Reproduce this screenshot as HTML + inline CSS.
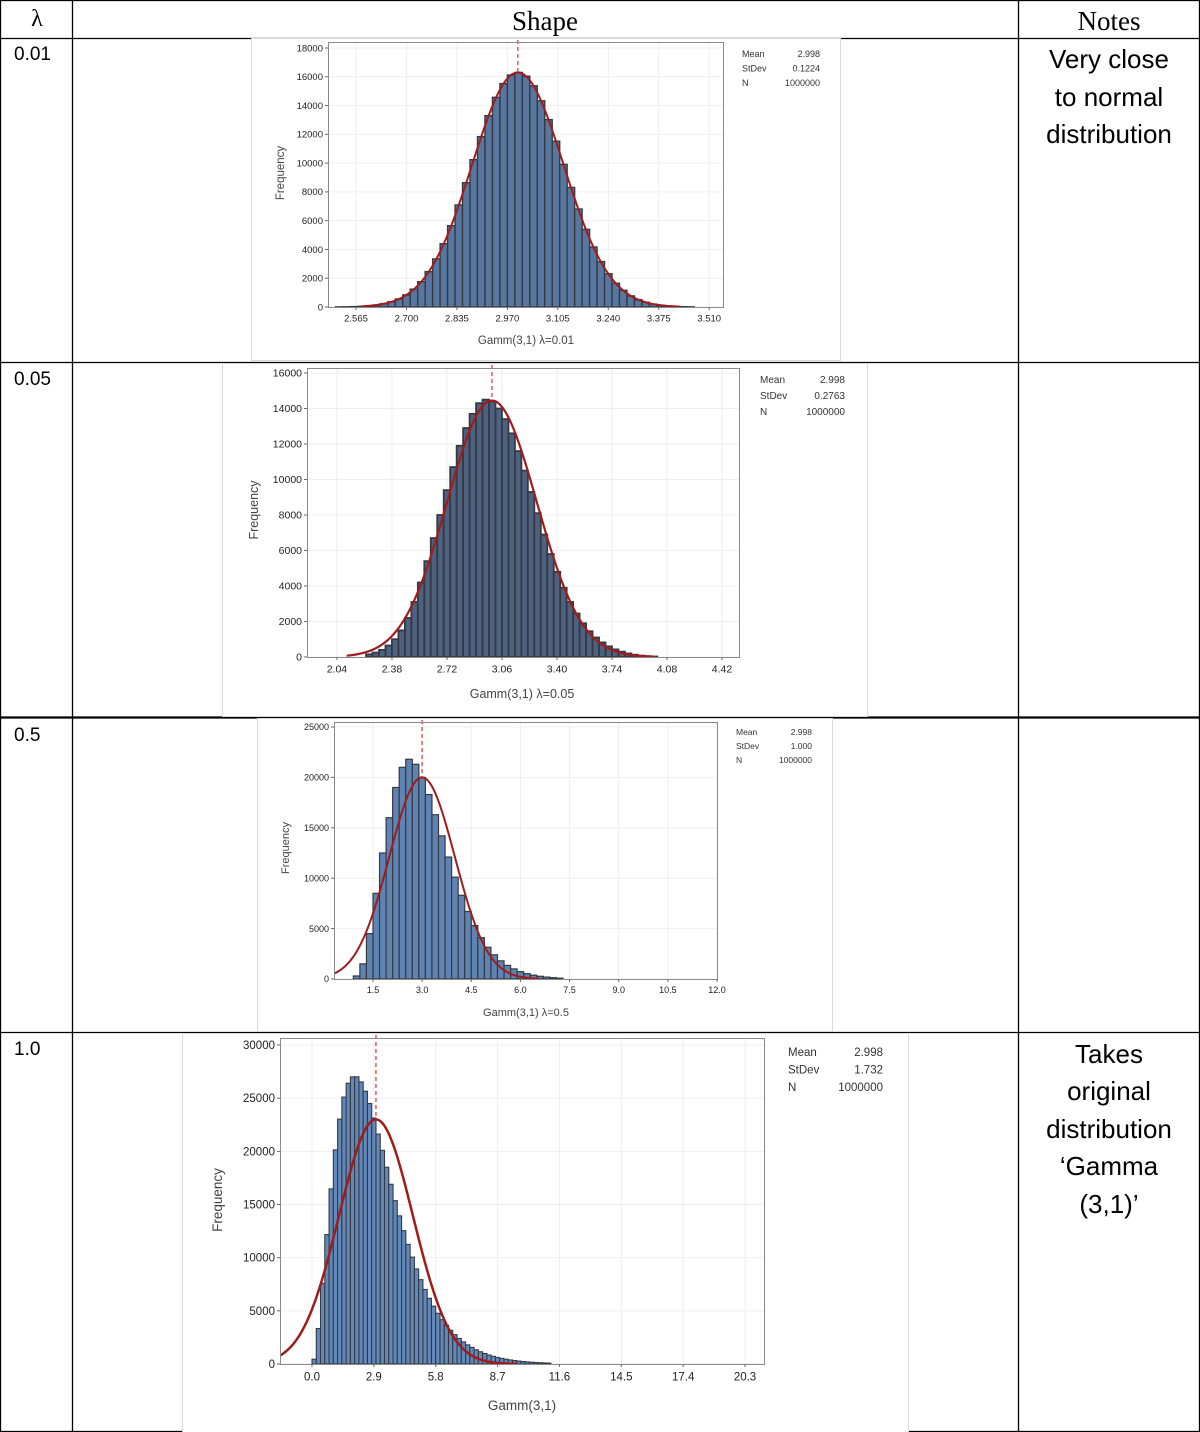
<!DOCTYPE html>
<html><head><meta charset="utf-8"><style>
html,body{margin:0;padding:0;background:#fff;}
svg{display:block;}
</style></head><body>
<svg id="page" width="1200" height="1432" viewBox="0 0 1200 1432" xmlns="http://www.w3.org/2000/svg" font-family="Liberation Sans, DejaVu Sans, sans-serif">
<g stroke="#000" stroke-width="1.3" fill="none">
<rect x="0.5" y="0.5" width="1199" height="1431"/>
<line x1="72.5" y1="0" x2="72.5" y2="1432"/>
<line x1="1018.5" y1="0" x2="1018.5" y2="1432"/>
<line x1="0" y1="38.5" x2="1200" y2="38.5"/>
<line x1="0" y1="362.5" x2="1200" y2="362.5"/>
<line x1="0" y1="717.5" x2="1200" y2="717.5" stroke-width="2.2"/>
<line x1="0" y1="1032.5" x2="1200" y2="1032.5"/>
</g>
<text x="37" y="26" font-family="Liberation Serif, serif" font-size="24" text-anchor="middle">λ</text>
<text x="545" y="30" font-family="Liberation Serif, serif" font-size="27" text-anchor="middle">Shape</text>
<text x="1109" y="30" font-family="Liberation Serif, serif" font-size="27" text-anchor="middle">Notes</text>
<g font-size="19">
<text x="14" y="60">0.01</text>
<text x="14" y="385">0.05</text>
<text x="14" y="741">0.5</text>
<text x="14" y="1055">1.0</text>
</g>
<g font-size="26" text-anchor="middle">
<text x="1109" y="68">Very close</text>
<text x="1109" y="106">to normal</text>
<text x="1109" y="143">distribution</text>
</g>
<g font-size="26" text-anchor="middle">
<text x="1109" y="1063">Takes</text>
<text x="1109" y="1100">original</text>
<text x="1109" y="1138">distribution</text>
<text x="1109" y="1175">‘Gamma</text>
<text x="1109" y="1213">(3,1)’</text>
</g>
<g id="charts"></g>
</svg>
<script>
// ---- chart 1 (lambda 0.01) ----
const c1BinStart = 2.51, c1BinWidth = 0.02;
const c1Counts = [8,15,27,48,83,139,226,362,555,841,1240,1760,2460,3340,4400,5650,7090,8640,10240,11840,13300,14570,15530,16120,16300,16040,15370,14330,13020,11520,9910,8310,6810,5400,4170,3160,2310,1650,1160,770,510,330,200,125,75,42,24,10];
const c1XTicks = ["2.565","2.700","2.835","2.970","3.105","3.240","3.375","3.510"];
const c1YTicks = [0,2000,4000,6000,8000,10000,12000,14000,16000,18000];
const c1Fit = {mean:2.998, sd:0.1224, peak:16300, from:2.58, to:3.43};
const c1Stats = [["Mean","2.998"],["StDev","0.1224"],["N","1000000"]];
// ---- chart 2 (lambda 0.05) ----
const c2BinStart = 2.22, c2BinWidth = 0.04;
const c2Counts = [150,250,400,650,1000,1500,2200,3100,4200,5400,6700,8000,9400,10700,11900,12900,13700,14300,14500,14400,14000,13400,12600,11600,10500,9300,8100,6900,5800,4800,3900,3100,2450,1900,1450,1100,820,600,430,300,200,130,80,50,30];
const c2XTicks = ["2.04","2.38","2.72","3.06","3.40","3.74","4.08","4.42"];
const c2YTicks = [0,2000,4000,6000,8000,10000,12000,14000,16000];
const c2Fit = {mean:2.998, sd:0.2763, peak:14450, from:2.1, to:4.0};
const c2Stats = [["Mean","2.998"],["StDev","0.2763"],["N","1000000"]];
// ---- chart 3 (lambda 0.5) ----
const c3BinStart = 0.9, c3BinWidth = 0.2;
const c3Counts = [300,1500,4500,8500,12500,16000,19000,21000,21800,21300,20000,18300,16300,14200,12100,10100,8300,6700,5300,4100,3150,2400,1800,1350,1000,730,530,380,270,190,130,80];
const c3XTicks = ["1.5","3.0","4.5","6.0","7.5","9.0","10.5","12.0"];
const c3YTicks = [0,5000,10000,15000,20000,25000];
const c3Fit = {mean:2.998, sd:1.0, peak:20000, from:0.31, to:6.6};
const c3Stats = [["Mean","2.998"],["StDev","1.000"],["N","1000000"]];
// ---- chart 4 (lambda 1.0) ----
const c4BinStart = 0.0, c4BinWidth = 0.2;
const c4Counts = [452,3334,7581,12166,16466,20140,23028,25100,26400,27000,27010,26530,25650,24500,23130,21620,20090,18500,16900,15360,13930,12540,11250,10050,8940,7930,7010,6180,5440,4770,4170,3650,3170,2760,2400,2080,1800,1556,1340,1150,985,845,720,615,525,447,380,322,273,231,195,165,139,117,98,82];
const c4XTicks = ["0.0","2.9","5.8","8.7","11.6","14.5","17.4","20.3"];
const c4YTicks = [0,5000,10000,15000,20000,25000,30000];
const c4Fit = {mean:2.998, sd:1.732, peak:23000, from:-1.5, to:9.6};
const c4Stats = [["Mean","2.998"],["StDev","1.732"],["N","1000000"]];

const NS = "http://www.w3.org/2000/svg";
function mk(tag, attrs, parent){
  const e = document.createElementNS(NS, tag);
  for (const k in attrs) e.setAttribute(k, attrs[k]);
  parent.appendChild(e);
  return e;
}
function drawChart(cfg){
  const root = document.getElementById('charts');
  const g = mk('g', {}, root);
  
  
  const P = cfg.plot;
  const sx = v => P.x + (v - cfg.xmin) / (cfg.xmax - cfg.xmin) * P.w;
  const sy = v => P.y + P.h - (v - 0) / (cfg.ymax - 0) * P.h;
  const panel = mk('rect', {x:cfg.panel[0]+0.5, y:cfg.panel[1]+0.5, width:cfg.panel[2], height:cfg.panel[3], fill:'#fff', stroke:'#d8d8d8'}, g);
  
  
  cfg.yTicks.forEach(t => {
    const gl = mk('line', {x1:P.x, x2:P.x+P.w, y1:sy(t), y2:sy(t), stroke:'#efefef', 'stroke-width':1}, g);
    
    
  });
  cfg.xTicks.forEach(t => {
    const gl = mk('line', {x1:sx(+t), x2:sx(+t), y1:P.y, y2:P.y+P.h, stroke:'#efefef', 'stroke-width':1}, g);
    
    
  });
  const clipId = cfg.name + '-clip';
  const defs = mk('defs', {}, g);
  const cp = mk('clipPath', {id:clipId}, defs);
  mk('rect', {x:P.x, y:P.y-30, width:P.w, height:P.h+30}, cp);
  const bars = mk('g', {'clip-path':'url(#'+clipId+')'}, g);
  cfg.counts.forEach((c, i) => {
    const x0 = cfg.binStart + i * cfg.binWidth;
    const r = mk('rect', {x:sx(x0), y:sy(c), width:Math.max(0.5, sx(x0+cfg.binWidth)-sx(x0)), height:sy(0)-sy(c), fill:cfg.barFill, stroke:'#353a42', 'stroke-width':cfg.barStroke}, bars);
    
    
  });
  const f = cfg.fit;
  let d = '';
  const n = 200;
  for (let i = 0; i <= n; i++){
    const x = f.from + (f.to - f.from) * i / n;
    const z = (x - f.mean) / f.sd;
    const y = f.peak * Math.exp(-z*z/2);
    d += (i ? 'L' : 'M') + sx(x).toFixed(2) + ',' + sy(y).toFixed(2);
  }
  const curve = mk('path', {d:d, fill:'none', stroke:'#a01c1c', 'stroke-width':cfg.curveW}, bars);
  
  
  const ml = mk('line', {x1:sx(f.mean), x2:sx(f.mean), y1:cfg.panel[1]+2, y2:sy(f.peak), stroke:'#e0302a', 'stroke-width':1.2, 'stroke-dasharray':'4,3'}, g);
  
  
  const fr = mk('rect', {x:P.x+0.5, y:P.y+0.5, width:P.w, height:P.h, fill:'none', stroke:'#8a8a8a', 'stroke-width':1}, g);
  
  
  cfg.yTicks.forEach(t => {
    mk('line', {x1:P.x-3, x2:P.x, y1:sy(t), y2:sy(t), stroke:'#666'}, g);
    const tx = mk('text', {x:P.x-5, y:sy(t)+cfg.fs*0.35, 'font-size':cfg.fs, 'text-anchor':'end', fill:'#222'}, g);
    
    
    tx.textContent = t;
  });
  cfg.xTicks.forEach(t => {
    mk('line', {x1:sx(+t), x2:sx(+t), y1:P.y+P.h, y2:P.y+P.h+3, stroke:'#666'}, g);
    const tx = mk('text', {x:sx(+t), y:P.y+P.h+cfg.fs+5, 'font-size':cfg.fs, 'text-anchor':'middle', fill:'#222'}, g);
    
    
    tx.textContent = t;
  });
  const xl = mk('text', {x:cfg.xLabel[0], y:cfg.xLabel[1], 'font-size':cfg.fs+2, 'text-anchor':'middle', fill:'#444'}, g);
  
  
  xl.textContent = cfg.xTitle;
  const yl = mk('text', {x:0, y:0, 'font-size':cfg.fs+2, 'text-anchor':'middle', fill:'#444', transform:'translate('+cfg.yLabel[0]+','+cfg.yLabel[1]+') rotate(-90)'}, g);
  
  
  yl.textContent = 'Frequency';
  cfg.stats.forEach((s, i) => {
    const a = mk('text', {x:cfg.statPos[0], y:cfg.statPos[1]+i*cfg.statGap, 'font-size':cfg.sfs, fill:'#333'}, g);
    
    
    a.textContent = s[0];
    const b = mk('text', {x:cfg.statPos[2], y:cfg.statPos[1]+i*cfg.statGap, 'font-size':cfg.sfs, 'text-anchor':'end', fill:'#333'}, g);
    
    
    b.textContent = s[1];
  });
}
drawChart({name:'histogram-lambda-0.01', panel:[251,38,589,322], plot:{x:328,y:42,w:395,h:265},
  xmin:2.49, xmax:3.547, ymax:18000*265/259,
  counts:c1Counts, binStart:c1BinStart, binWidth:c1BinWidth, xTicks:c1XTicks, yTicks:c1YTicks, fit:c1Fit, stats:c1Stats,
  barFill:'#5877a0', barStroke:1.4,
  fs:9.5, sfs:9, curveW:2, xTitle:'Gamm(3,1) λ=0.01', xLabel:[526,344], yLabel:[284,173], statPos:[742,57,820], statGap:14.5});
drawChart({name:'histogram-lambda-0.05', panel:[222,363,645,353], plot:{x:307,y:368,w:432,h:289},
  xmin:1.855, xmax:4.525, ymax:16000*289/284,
  counts:c2Counts, binStart:c2BinStart, binWidth:c2BinWidth, xTicks:c2XTicks, yTicks:c2YTicks, fit:c2Fit, stats:c2Stats,
  barFill:'#4d6180', barStroke:1.8,
  fs:10.5, sfs:10, curveW:2.2, xTitle:'Gamm(3,1) λ=0.05', xLabel:[522,698], yLabel:[258,510], statPos:[760,383,845], statGap:16});
drawChart({name:'histogram-lambda-0.5', panel:[257,718,575,313], plot:{x:334,y:722,w:383,h:257},
  xmin:0.31, xmax:12.0, ymax:25000*257/252,
  counts:c3Counts, binStart:c3BinStart, binWidth:c3BinWidth, xTicks:c3XTicks, yTicks:c3YTicks, fit:c3Fit, stats:c3Stats,
  barFill:'#5f84b4', barStroke:1.2,
  fs:9, sfs:8.5, curveW:2, xTitle:'Gamm(3,1) λ=0.5', xLabel:[526,1016], yLabel:[289,848], statPos:[736,735,812], statGap:14});
drawChart({name:'histogram-lambda-1.0', panel:[182,1033,726,399], plot:{x:280,y:1038,w:484,h:326},
  xmin:-1.5, xmax:21.19, ymax:30000*326/319,
  counts:c4Counts, binStart:c4BinStart, binWidth:c4BinWidth, xTicks:c4XTicks, yTicks:c4YTicks, fit:c4Fit, stats:c4Stats,
  barFill:'#6289bb', barStroke:1.1,
  fs:11.5, sfs:11.5, curveW:2.5, xTitle:'Gamm(3,1)', xLabel:[522,1410], yLabel:[222,1200], statPos:[788,1056,883], statGap:17.5});
</script>
</body></html>
